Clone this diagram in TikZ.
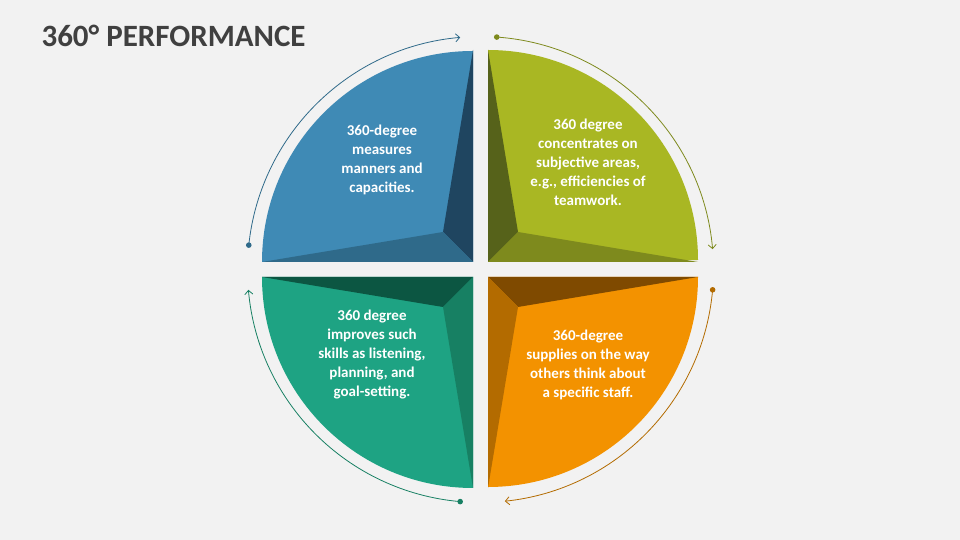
\documentclass[tikz,border=0pt]{standalone}
\usepackage{fontspec}
\setmainfont{Carlito}
\usetikzlibrary{arrows.meta}
\definecolor{bg}{HTML}{F2F2F2}
\definecolor{ttl}{HTML}{404040}
\definecolor{bA}{HTML}{3F8AB5}\definecolor{bB}{HTML}{1F4560}\definecolor{bC}{HTML}{2F6A8A}
\definecolor{gA}{HTML}{A9B723}\definecolor{gB}{HTML}{56621A}\definecolor{gC}{HTML}{7E8A1D}
\definecolor{tA}{HTML}{1EA383}\definecolor{tB}{HTML}{0C5642}\definecolor{tC}{HTML}{178063}
\definecolor{oA}{HTML}{F39200}\definecolor{oB}{HTML}{7F4A00}\definecolor{oC}{HTML}{B36B00}
\tikzset{
 txt/.style={text=white,font=\bfseries\fontsize{15}{19}\selectfont,align=center},
 ring/.style={line width=0.8pt,-{Straight Barb[length=4pt,width=8pt]}},
}
\begin{document}
\begin{tikzpicture}[x=1pt,y=1pt]
\fill[bg] (0,0) rectangle (960,540);
\useasboundingbox (0,0) rectangle (960,540);
\node[anchor=west,text=ttl,font=\bfseries\fontsize{31}{36}\selectfont] (title) at (38,504) {360° PERFORMANCE};
% TL blue
\fill[bA] (473,278) -- (262,278) arc[start angle=180,end angle=90,radius=211] -- cycle;
\fill[bB] (473,490) -- (443,308) -- (473,278) -- cycle;
\fill[bC] (262,278) -- (443,308) -- (473,278) -- cycle;
% TR green
\fill[gA] (488,278) -- (488,490) arc[start angle=90,end angle=0,radius=210] -- cycle;
\fill[gB] (488,490) -- (518,308) -- (488,278) -- cycle;
\fill[gC] (698,278) -- (518,308) -- (488,278) -- cycle;
% BL teal
\fill[tA] (473,263) -- (262,263) arc[start angle=180,end angle=270,radius=211] -- cycle;
\fill[tB] (262,263) -- (443,233) -- (473,263) -- cycle;
\fill[tC] (473,52) -- (443,233) -- (473,263) -- cycle;
% BR orange
\fill[oA] (488,263) -- (698,263) arc[start angle=0,end angle=-90,radius=210] -- cycle;
\fill[oB] (698,263) -- (518,233) -- (488,263) -- cycle;
\fill[oC] (488,52) -- (518,233) -- (488,263) -- cycle;
% texts
\node[txt] (t1) at (382,380) {360-degree\\measures\\manners and\\capacities.};
\node[txt] (t2) at (588,378) {360 degree\\concentrates on\\subjective areas,\\e.g., efficiencies of\\teamwork.};
\node[txt] (t3) at (372,185) {360 degree\\improves such\\skills as listening,\\planning, and\\goal-setting.};
\node[txt] (t4) at (588,175) {360-degree\\supplies on the way\\others think about\\a specific staff.};
% ring arrows
\coordinate (c) at (480.5,270.5);
\draw[ring,bC] ([shift={(174:233)}]c) coordinate (d1) arc[start angle=174,end angle=95,radius=233];
\fill[bC] (d1) circle (2.8);
\draw[ring,gC] ([shift={(86:233)}]c) coordinate (d2) arc[start angle=86,end angle=5,radius=233];
\fill[gC] (d2) circle (2.8);
\draw[ring,oC] ([shift={(-5:233)}]c) coordinate (d3) arc[start angle=-5,end angle=-84,radius=233];
\fill[oC] (d3) circle (2.8);
\draw[ring,tC] ([shift={(-95:233)}]c) coordinate (d4) arc[start angle=-95,end angle=-175,radius=233];
\fill[tC] (d4) circle (2.8);
\end{tikzpicture}
\end{document}
